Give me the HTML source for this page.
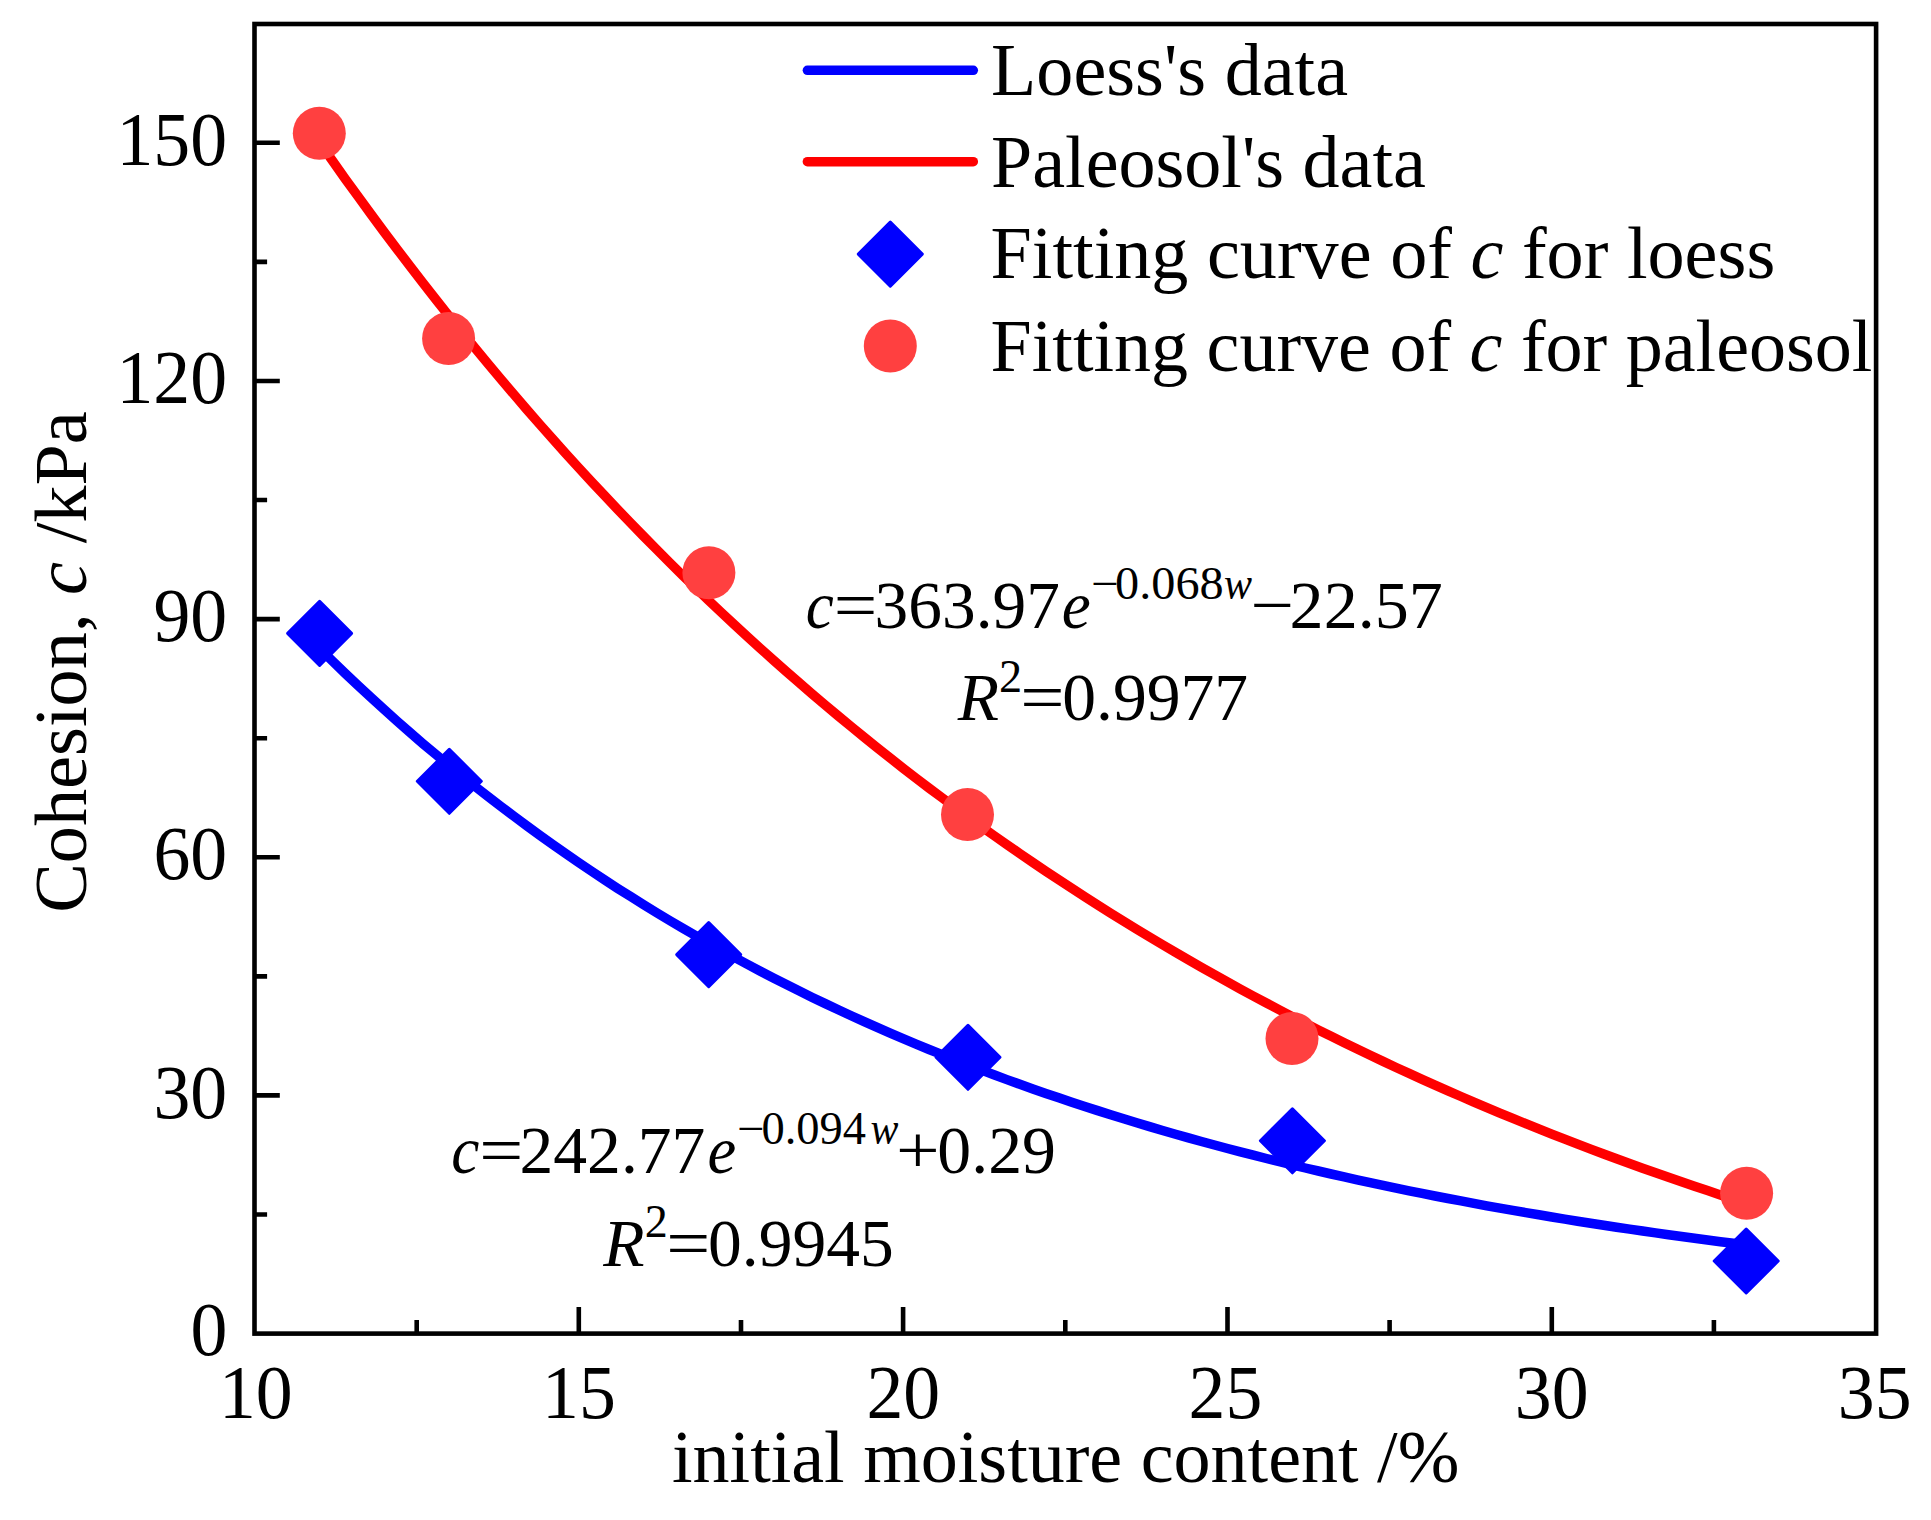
<!DOCTYPE html>
<html lang="en"><head><meta charset="utf-8"><title>Cohesion vs initial moisture content</title>
<style>html,body{margin:0;padding:0;background:#fff;}svg{display:block;}text{font-family:"Liberation Serif","Times New Roman",serif;fill:#000;}.i{font-style:italic;}</style>
</head><body>
<svg width="1931" height="1520" viewBox="0 0 1931 1520">
<rect x="0" y="0" width="1931" height="1520" fill="#fff"/>
<polyline points="319.4,648.2 332.3,660.9 345.3,673.5 358.3,685.7 371.3,697.8 384.2,709.6 397.2,721.2 410.2,732.6 423.1,743.8 436.1,754.7 449.1,765.5 462.1,776.0 475.0,786.4 488.0,796.6 501.0,806.5 514.0,816.3 526.9,825.9 539.9,835.4 552.9,844.6 565.8,853.7 578.8,862.6 591.8,871.4 604.8,880.0 617.7,888.4 630.7,896.6 643.7,904.8 656.7,912.7 669.6,920.5 682.6,928.2 695.6,935.7 708.5,943.1 721.5,950.3 734.5,957.4 747.5,964.4 760.4,971.3 773.4,978.0 786.4,984.6 799.4,991.0 812.3,997.4 825.3,1003.6 838.3,1009.7 851.2,1015.7 864.2,1021.6 877.2,1027.4 890.2,1033.1 903.1,1038.6 916.1,1044.1 929.1,1049.5 942.1,1054.7 955.0,1059.9 968.0,1064.9 981.0,1069.9 993.9,1074.8 1006.9,1079.6 1019.9,1084.3 1032.9,1088.9 1045.8,1093.4 1058.8,1097.8 1071.8,1102.2 1084.8,1106.5 1097.7,1110.6 1110.7,1114.8 1123.7,1118.8 1136.7,1122.8 1149.6,1126.6 1162.6,1130.5 1175.6,1134.2 1188.5,1137.9 1201.5,1141.5 1214.5,1145.0 1227.5,1148.5 1240.4,1151.9 1253.4,1155.2 1266.4,1158.5 1279.4,1161.7 1292.3,1164.9 1305.3,1168.0 1318.3,1171.0 1331.2,1174.0 1344.2,1176.9 1357.2,1179.8 1370.2,1182.6 1383.1,1185.4 1396.1,1188.1 1409.1,1190.8 1422.1,1193.4 1435.0,1196.0 1448.0,1198.5 1461.0,1200.9 1473.9,1203.4 1486.9,1205.8 1499.9,1208.1 1512.9,1210.4 1525.8,1212.6 1538.8,1214.8 1551.8,1217.0 1564.8,1219.1 1577.7,1221.2 1590.7,1223.2 1603.7,1225.2 1616.6,1227.2 1629.6,1229.1 1642.6,1231.0 1655.6,1232.9 1668.5,1234.7 1681.5,1236.5 1694.5,1238.3 1707.5,1240.0 1720.4,1241.7 1733.4,1243.3 1746.4,1245.0" fill="none" stroke="#0000ff" stroke-width="9.5" stroke-linecap="round" stroke-linejoin="round"/>
<polyline points="319.4,142.2 332.3,160.6 345.3,178.9 358.3,196.8 371.3,214.6 384.2,232.1 397.2,249.3 410.2,266.4 423.1,283.2 436.1,299.7 449.1,316.1 462.1,332.2 475.0,348.1 488.0,363.8 501.0,379.3 514.0,394.5 526.9,409.6 539.9,424.5 552.9,439.1 565.8,453.6 578.8,467.9 591.8,481.9 604.8,495.8 617.7,509.5 630.7,523.0 643.7,536.4 656.7,549.5 669.6,562.5 682.6,575.3 695.6,587.9 708.5,600.3 721.5,612.6 734.5,624.7 747.5,636.7 760.4,648.5 773.4,660.1 786.4,671.6 799.4,682.9 812.3,694.1 825.3,705.1 838.3,716.0 851.2,726.7 864.2,737.3 877.2,747.7 890.2,758.0 903.1,768.2 916.1,778.2 929.1,788.1 942.1,797.8 955.0,807.4 968.0,816.9 981.0,826.3 993.9,835.5 1006.9,844.6 1019.9,853.6 1032.9,862.5 1045.8,871.2 1058.8,879.8 1071.8,888.3 1084.8,896.7 1097.7,905.0 1110.7,913.2 1123.7,921.3 1136.7,929.2 1149.6,937.0 1162.6,944.8 1175.6,952.4 1188.5,959.9 1201.5,967.4 1214.5,974.7 1227.5,981.9 1240.4,989.1 1253.4,996.1 1266.4,1003.0 1279.4,1009.9 1292.3,1016.6 1305.3,1023.3 1318.3,1029.9 1331.2,1036.3 1344.2,1042.7 1357.2,1049.0 1370.2,1055.3 1383.1,1061.4 1396.1,1067.5 1409.1,1073.4 1422.1,1079.3 1435.0,1085.1 1448.0,1090.9 1461.0,1096.5 1473.9,1102.1 1486.9,1107.6 1499.9,1113.1 1512.9,1118.4 1525.8,1123.7 1538.8,1128.9 1551.8,1134.1 1564.8,1139.1 1577.7,1144.1 1590.7,1149.1 1603.7,1154.0 1616.6,1158.8 1629.6,1163.5 1642.6,1168.2 1655.6,1172.8 1668.5,1177.3 1681.5,1181.8 1694.5,1186.3 1707.5,1190.6 1720.4,1195.0 1733.4,1199.2 1746.4,1203.4" fill="none" stroke="#ff0000" stroke-width="9.5" stroke-linecap="round" stroke-linejoin="round"/>
<path d="M319.6 601.4L351.6 633.4L319.6 665.4L287.6 633.4Z" fill="#0000ff" stroke="#0000ff" stroke-width="3" stroke-linejoin="round"/>
<path d="M449.3 749.3L481.3 781.3L449.3 813.3L417.3 781.3Z" fill="#0000ff" stroke="#0000ff" stroke-width="3" stroke-linejoin="round"/>
<path d="M708.7 922.6L740.7 954.6L708.7 986.6L676.7 954.6Z" fill="#0000ff" stroke="#0000ff" stroke-width="3" stroke-linejoin="round"/>
<path d="M968.0 1025.3L1000.0 1057.3L968.0 1089.3L936.0 1057.3Z" fill="#0000ff" stroke="#0000ff" stroke-width="3" stroke-linejoin="round"/>
<path d="M1292.4 1108.8L1324.4 1140.8L1292.4 1172.8L1260.4 1140.8Z" fill="#0000ff" stroke="#0000ff" stroke-width="3" stroke-linejoin="round"/>
<path d="M1746.2 1229.0L1778.2 1261.0L1746.2 1293.0L1714.2 1261.0Z" fill="#0000ff" stroke="#0000ff" stroke-width="3" stroke-linejoin="round"/>
<circle cx="319.3" cy="133.3" r="26.5" fill="#ff4040"/>
<circle cx="448.6" cy="338.5" r="26.5" fill="#ff4040"/>
<circle cx="708.9" cy="572.7" r="26.5" fill="#ff4040"/>
<circle cx="967.5" cy="814.6" r="26.5" fill="#ff4040"/>
<circle cx="1292.0" cy="1038.4" r="26.5" fill="#ff4040"/>
<circle cx="1746.6" cy="1193.2" r="26.5" fill="#ff4040"/>
<rect x="254.5" y="24.0" width="1621.6" height="1309.6" fill="none" stroke="#000" stroke-width="4.6"/>
<path d="M578.8 1333.6V1307.1M903.1 1333.6V1307.1M1227.5 1333.6V1307.1M1551.8 1333.6V1307.1M416.7 1333.6V1320.0M741.0 1333.6V1320.0M1065.3 1333.6V1320.0M1389.6 1333.6V1320.0M1713.9 1333.6V1320.0M254.5 1095.4H279.8M254.5 857.3H279.8M254.5 619.1H279.8M254.5 381.0H279.8M254.5 142.8H279.8M254.5 1214.5H267.1M254.5 976.4H267.1M254.5 738.2H267.1M254.5 500.0H267.1M254.5 261.9H267.1" fill="none" stroke="#000" stroke-width="4.6"/>
<line x1="807.4" y1="70.3" x2="973.3" y2="70.3" stroke="#0000ff" stroke-width="9.5" stroke-linecap="round"/>
<line x1="807.4" y1="161.7" x2="973.3" y2="161.7" stroke="#ff0000" stroke-width="9.5" stroke-linecap="round"/>
<path d="M890.3 222.1L922.3 254.1L890.3 286.1L858.3 254.1Z" fill="#0000ff" stroke="#0000ff" stroke-width="3" stroke-linejoin="round"/>
<circle cx="890.3" cy="346" r="26.5" fill="#ff4040"/>
<text transform="translate(218.9 1418.2) scale(1.000 1.025)" font-size="73.8">10</text>
<text transform="translate(542.0 1418.2) scale(1.000 1.025)" font-size="73.8">15</text>
<text transform="translate(866.4 1418.2) scale(1.000 1.025)" font-size="73.8">20</text>
<text transform="translate(1188.5 1418.2) scale(1.000 1.025)" font-size="73.8">25</text>
<text transform="translate(1514.8 1418.2) scale(1.000 1.025)" font-size="73.8">30</text>
<text transform="translate(1837.8 1418.2) scale(1.000 1.025)" font-size="73.8">35</text>
<text transform="translate(116.4 164.5) scale(1.000 1.025)" font-size="73.8">150</text>
<text transform="translate(116.4 402.5) scale(1.000 1.025)" font-size="73.8">120</text>
<text transform="translate(153.4 641.2) scale(1.000 1.025)" font-size="73.8">90</text>
<text transform="translate(153.4 879.4) scale(1.000 1.025)" font-size="73.8">60</text>
<text transform="translate(153.4 1117.6) scale(1.000 1.025)" font-size="73.8">30</text>
<text transform="translate(190.4 1355.4) scale(1.000 1.025)" font-size="73.8">0</text>
<g><text transform="translate(672.0 1482.4) scale(1.003 1.000)" font-size="73.8">initial moisture content /%</text></g>
<g><text transform="translate(86.0 912.8) rotate(-90) scale(1.007 1)" font-size="73.8">Cohesion, <tspan class="i">c</tspan> /kPa</text></g>
<g><text transform="translate(991.1 94.5) scale(1.004 1.000)" font-size="73.8">Loess's data</text></g>
<g><text transform="translate(991.1 186.8) scale(1.003 1.000)" font-size="73.8">Paleosol's data</text></g>
<g><text transform="translate(990.6 278.3) scale(1.005 1.000)" font-size="73.8">Fitting curve of <tspan class="i">c</tspan> for loess</text></g>
<g><text transform="translate(990.6 371.0) scale(1.003 1.000)" font-size="73.8">Fitting curve of <tspan class="i">c</tspan> for paleosol</text></g>
<g><text class="i" transform="translate(805.8 628.3) scale(0.925 1.000)" font-size="68.3">c</text><text transform="translate(833.8 628.3) scale(1.131 1.000)" font-size="68.3">=</text><text transform="translate(874.6 628.3) scale(0.987 1.000)" font-size="68.3">363.97</text><text class="i" transform="translate(1061.8 628.3) scale(0.956 1.000)" font-size="68.3">e</text><text transform="translate(1090.9 599.3) scale(1.055 1.000)" font-size="46.3">−</text><text transform="translate(1115.1 599.3) scale(1.042 1.000)" font-size="46.3">0.068</text><text class="i" transform="translate(1224.1 599.3) scale(0.907 1.000)" font-size="46.3">w</text><text transform="translate(1250.6 628.3) scale(1.134 1.000)" font-size="68.3">−</text><text transform="translate(1289.6 628.3) scale(0.997 1.000)" font-size="68.3">22.57</text></g>
<g><text class="i" transform="translate(957.8 720.3) scale(0.990 1.000)" font-size="68.3">R</text><text transform="translate(999.1 692.0) scale(1.000 1.000)" font-size="46.3">2</text><text transform="translate(1020.2 720.3) scale(1.150 1.000)" font-size="68.3">=</text><text transform="translate(1062.2 720.3) scale(0.990 1.000)" font-size="68.3">0.9977</text></g>
<g><text class="i" transform="translate(451.2 1172.5) scale(0.927 1.000)" font-size="68.3">c</text><text transform="translate(479.2 1172.5) scale(1.144 1.000)" font-size="68.3">=</text><text transform="translate(519.5 1172.5) scale(0.990 1.000)" font-size="68.3">242.77</text><text class="i" transform="translate(707.6 1172.5) scale(0.948 1.000)" font-size="68.3">e</text><text transform="translate(736.9 1143.8) scale(1.048 1.000)" font-size="46.3">−</text><text transform="translate(761.5 1143.8) scale(1.004 1.000)" font-size="46.3">0.094</text><text class="i" transform="translate(870.5 1143.8) scale(0.903 1.000)" font-size="46.3">w</text><text transform="translate(896.0 1172.5) scale(1.134 1.000)" font-size="68.3">+</text><text transform="translate(937.3 1172.5) scale(0.993 1.000)" font-size="68.3">0.29</text></g>
<g><text class="i" transform="translate(603.2 1265.6) scale(0.990 1.000)" font-size="68.3">R</text><text transform="translate(644.7 1237.1) scale(0.995 1.000)" font-size="46.3">2</text><text transform="translate(666.3 1265.6) scale(1.144 1.000)" font-size="68.3">=</text><text transform="translate(708.0 1265.6) scale(0.989 1.000)" font-size="68.3">0.9945</text></g>
</svg></body></html>
